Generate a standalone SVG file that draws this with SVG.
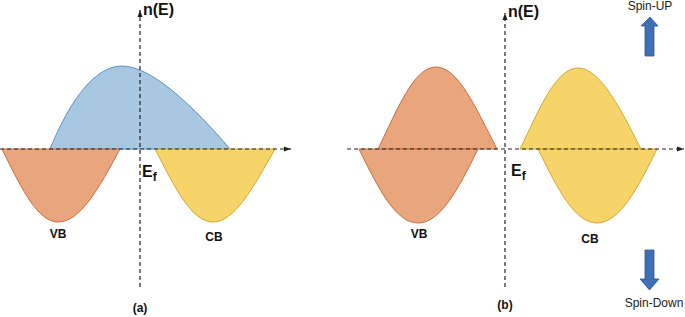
<svg xmlns="http://www.w3.org/2000/svg" width="685" height="317" viewBox="0 0 685 317">
<defs>
<marker id="ah" markerWidth="8" markerHeight="8" refX="7" refY="4" orient="auto" markerUnits="userSpaceOnUse">
<path d="M0,1.5 L7,4 L0,6.5 Z" fill="#222"/>
</marker>
<style>
.axis{stroke:#222;stroke-width:1.2;stroke-dasharray:4,3;fill:none}
.blue{fill:#A8C8E2;stroke:#5B93C8;stroke-width:1}
.orange{fill:#E9A67D;stroke:#C5703F;stroke-width:1}
.yellow{fill:#F7D46A;stroke:#D2A832;stroke-width:1}
.lbl{font-family:"Liberation Sans",Arial,sans-serif;fill:#111}
.b{font-weight:bold;font-size:12px}
.big{font-size:16px;font-weight:bold}
.ef{font-size:16px;font-weight:bold}
.spin{font-size:12px;fill:#222}
.arr{fill:#3F70B6;stroke:#2F5597;stroke-width:0.8}
</style>
</defs>

<g id="panel-a-bands">
<g id="a-total"><path class="blue" d="M50,149 C70,100 95,66 122,66 C152,66 195,108 230,149 Z"/></g>
<g id="a-vb"><path class="orange" d="M2,149 C22,190 38,222 58,222 C80,222 98,190 120,149 Z"/></g>
<g id="a-cb"><path class="yellow" d="M155,149 C176,190 192,222 213,222 C234,222 252,190 275,149 Z"/></g>
</g>

<g id="panel-b-bands">
<g id="b-vb-up"><path class="orange" d="M378,149 C398,108 414,67 436,67 C458,67 476,108 497,149 Z"/></g>
<g id="b-vb-down"><path class="orange" d="M359,149 C379,190 396,223 418,223 C440,223 458,190 478,149 Z"/></g>
<g id="b-cb-up"><path class="yellow" d="M520,149 C540,108 556,68 578,68 C600,68 620,108 641,149 Z"/></g>
<g id="b-cb-down"><path class="yellow" d="M538,149 C558,190 575,223 597,223 C619,223 637,190 657,149 Z"/></g>
</g>

<g id="connectors">
<line class="axis" x1="0" y1="149" x2="291" y2="149" marker-end="url(#ah)"/>
<line class="axis" x1="140" y1="287" x2="140" y2="10" marker-end="url(#ah)"/>
<line class="axis" x1="347" y1="149" x2="684" y2="149" marker-end="url(#ah)"/>
<line class="axis" x1="505" y1="287" x2="505" y2="13" marker-end="url(#ah)"/>
</g>

<g id="spin-up-arrow"><path class="arr" d="M650,17 L658,26 L654,26 L654,56 L645,56 L645,26 L641,26 Z"/></g>
<g id="spin-down-arrow"><path class="arr" d="M645,250 L654,250 L654,279 L659,279 L649.5,290 L640,279 L645,279 Z"/></g>

<g id="labels">
<text class="lbl big" x="143" y="15">n(E)</text>
<text class="lbl big" x="508" y="17">n(E)</text>
<text class="lbl ef" x="142" y="177">E<tspan font-size="12" dy="4">f</tspan></text>
<text class="lbl ef" x="511" y="176">E<tspan font-size="12" dy="4">f</tspan></text>
<text class="lbl b" x="58" y="238" text-anchor="middle">VB</text>
<text class="lbl b" x="214" y="241" text-anchor="middle">CB</text>
<text class="lbl b" x="419" y="238" text-anchor="middle">VB</text>
<text class="lbl b" x="590" y="243" text-anchor="middle">CB</text>
<text class="lbl b" x="140" y="312" text-anchor="middle">(a)</text>
<text class="lbl b" x="505" y="309" text-anchor="middle">(b)</text>
<text class="lbl spin" x="650" y="10" text-anchor="middle">Spin-UP</text>
<text class="lbl spin" x="654" y="307" text-anchor="middle">Spin-Down</text>
</g>
</svg>
